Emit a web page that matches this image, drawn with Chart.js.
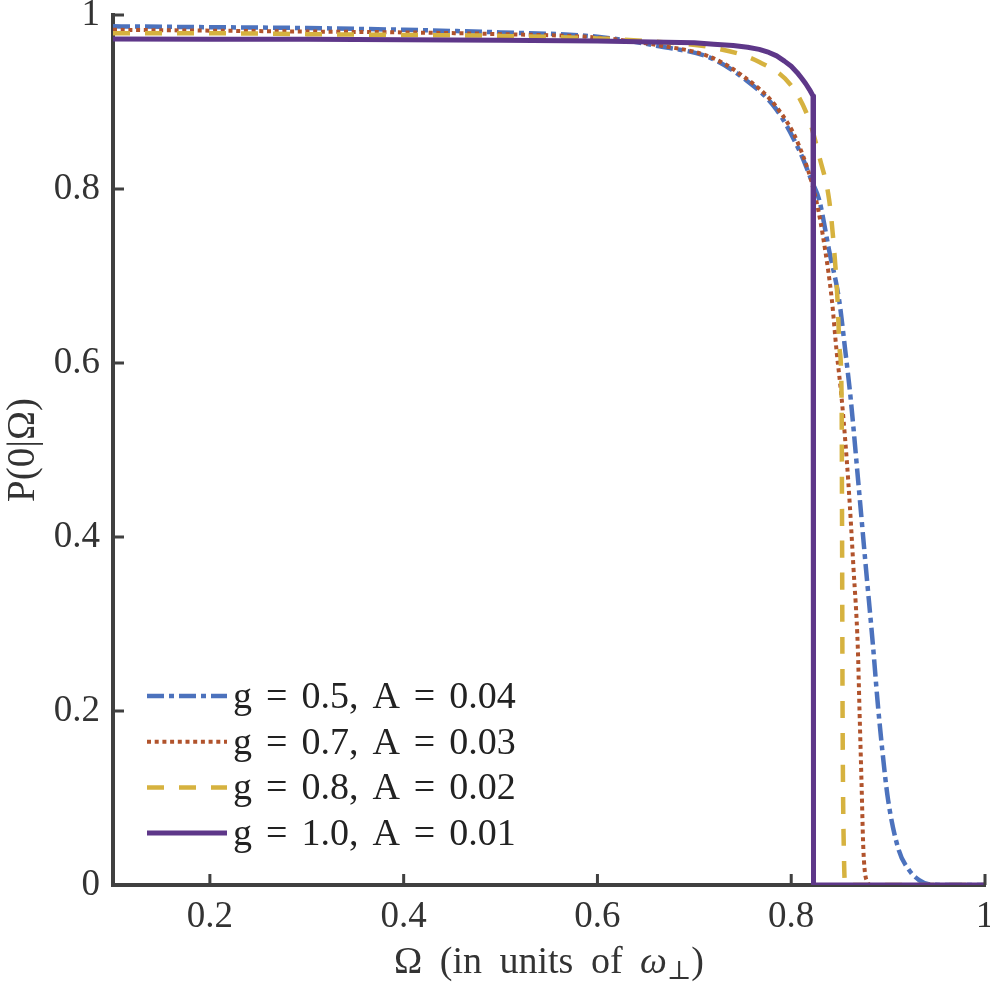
<!DOCTYPE html>
<html>
<head>
<meta charset="utf-8">
<script src="https://cdn.jsdelivr.net/npm/chart.js@4/dist/chart.umd.min.js"></script>
<style>
  html, body { margin: 0; padding: 0; background: #fff; }
</style>
</head>
<body>
<canvas id="plot" width="990" height="990"></canvas>
<script>
// values
const omegaG05 = [0.1, 0.2, 0.3, 0.4, 0.5, 0.6, 0.664, 0.716, 0.75, 0.785, 0.808, 0.822, 0.829, 0.839, 0.8495, 0.8557, 0.8615, 0.8693, 0.877, 0.8845, 0.889, 0.894, 0.9, 0.911, 0.9216, 0.932, 0.942, 0.96, 1.0];
const probG05  = [0.987, 0.986, 0.985, 0.983, 0.98, 0.975, 0.964, 0.951, 0.928, 0.891, 0.845, 0.807, 0.787, 0.73, 0.672, 0.615, 0.5575, 0.462, 0.3655, 0.2736, 0.2126, 0.155, 0.0977, 0.04, 0.0172, 0.0057, 0.001, 0, 0];

const omegaG07 = [0.1, 0.2, 0.3, 0.4, 0.5, 0.6, 0.664, 0.716, 0.75, 0.785, 0.808, 0.8258, 0.835, 0.842, 0.8467, 0.8522, 0.859, 0.8642, 0.8687, 0.8705, 0.8725, 0.8745, 0.8788, 0.882, 1.0];
const probG07  = [0.983, 0.982, 0.981, 0.98, 0.978, 0.974, 0.965, 0.952, 0.93, 0.894, 0.85, 0.787, 0.73, 0.672, 0.615, 0.5575, 0.462, 0.3655, 0.2736, 0.2, 0.12, 0.04, 0.003, 0, 0];

const omegaG08 = [0.1, 0.2, 0.3, 0.4, 0.5, 0.6, 0.664, 0.716, 0.767, 0.8013, 0.8186, 0.8295, 0.8392, 0.8443, 0.8478, 0.85, 0.852, 0.8525, 0.853, 0.8545, 0.856, 1.0];
const probG08  = [0.979, 0.979, 0.978, 0.977, 0.976, 0.973, 0.969, 0.963, 0.946, 0.917, 0.879, 0.835, 0.787, 0.73, 0.672, 0.615, 0.56, 0.4, 0.2, 0.03, 0, 0];

const omegaG10 = [0.1, 0.2, 0.3, 0.4, 0.5, 0.6, 0.7, 0.72, 0.74, 0.755, 0.767, 0.777, 0.785, 0.793, 0.8, 0.806, 0.811, 0.815, 0.819, 0.8225, 0.823, 1.0];
const probG10  = [0.9725, 0.9722, 0.972, 0.9715, 0.971, 0.970, 0.968, 0.9665, 0.965, 0.963, 0.9605, 0.957, 0.953, 0.947, 0.941, 0.934, 0.927, 0.921, 0.914, 0.907, 0, 0];

const seriesLabels = ['g = 0.5, A = 0.04', 'g = 0.7, A = 0.03', 'g = 0.8, A = 0.02', 'g = 1.0, A = 0.01'];
const xTicks = [0.2, 0.4, 0.6, 0.8, 1];
const yTicks = [0, 0.2, 0.4, 0.6, 0.8, 1];

const axisColor = '#404040';
const serif = "'Liberation Serif', 'DejaVu Serif', serif";

function pts(xs, ys) {
  return xs.map((x, i) => ({x: x, y: ys[i]}));
}

// draws words one by one with a wider gap, like the LaTeX spacing of the original
function spacedText(ctx, str, x, y, gap) {
  str.split(' ').forEach(w => {
    ctx.fillText(w, x, y);
    x += ctx.measureText(w).width + gap;
  });
  return x;
}

// ticks pointing into the plot
const innerTicks = {
  id: 'innerTicks',
  afterDraw(chart) {
    const ctx = chart.ctx;
    const xs = chart.scales.x, ys = chart.scales.y;
    ctx.save();
    ctx.strokeStyle = axisColor;
    ctx.lineWidth = 3;
    ctx.beginPath();
    xTicks.forEach(v => {
      const px = xs.getPixelForValue(v);
      ctx.moveTo(px, ys.bottom);
      ctx.lineTo(px, ys.bottom - 11);
    });
    yTicks.forEach(v => {
      const py = ys.getPixelForValue(v);
      ctx.moveTo(xs.left, py);
      ctx.lineTo(xs.left + 11, py);
    });
    ctx.stroke();
    ctx.restore();
  }
};

// legend in the lower left, no box
const lineLegend = {
  id: 'lineLegend',
  afterDraw(chart) {
    const ctx = chart.ctx;
    ctx.save();
    chart.data.datasets.forEach((ds, i) => {
      const y = 696 + i * 45.7;
      ctx.beginPath();
      ctx.strokeStyle = ds.borderColor;
      ctx.lineWidth = ds.borderWidth;
      ctx.setLineDash(ds.borderDash || []);
      ctx.moveTo(147, y);
      ctx.lineTo(227, y);
      ctx.stroke();
      ctx.setLineDash([]);
      ctx.fillStyle = '#222';
      ctx.font = '38px ' + serif;
      ctx.textBaseline = 'middle';
      ctx.textAlign = 'left';
      spacedText(ctx, ds.label, 233, y + 2, 14);
    });
    ctx.restore();
  }
};

// x axis title with italic omega and subscript
const xTitle = {
  id: 'xTitle',
  afterDraw(chart) {
    const ctx = chart.ctx;
    const parts = [
      {t: 'Ω (in units of ', f: '38px ' + serif, dy: 0},
      {t: 'ω', f: 'italic 38px ' + serif, dy: 0},
      {t: '⊥', f: '26px ' + serif, dy: 9},
      {t: ')', f: '38px ' + serif, dy: 0}
    ];
    ctx.save();
    ctx.fillStyle = '#333';
    ctx.textBaseline = 'middle';
    ctx.textAlign = 'left';
    ctx.wordSpacing = '8px';
    let total = 0;
    parts.forEach(p => { ctx.font = p.f; p.w = ctx.measureText(p.t).width; total += p.w; });
    let x = 549 - total / 2;
    parts.forEach(p => {
      ctx.font = p.f;
      ctx.fillText(p.t, x, 963 + p.dy);
      x += p.w;
    });
    ctx.restore();
  }
};

new Chart(document.getElementById('plot').getContext('2d'), {
  type: 'line',
  data: {
    datasets: [
      {label: seriesLabels[0], data: pts(omegaG05, probG05), borderColor: '#4c72bd', borderWidth: 4.5, borderDash: [17, 5, 5, 5], order: 4},
      {label: seriesLabels[1], data: pts(omegaG07, probG07), borderColor: '#b1532c', borderWidth: 4, borderDash: [4, 3.7], order: 3},
      {label: seriesLabels[2], data: pts(omegaG08, probG08), borderColor: '#d6b23f', borderWidth: 4.5, borderDash: [17, 15], order: 2},
      {label: seriesLabels[3], data: pts(omegaG10, probG10), borderColor: '#5e3789', borderWidth: 5, order: 1,
       cubicInterpolationMode: 'default', tension: 0}
    ]
  },
  options: {
    responsive: false,
    animation: false,
    events: [],
    layout: {padding: {top: 15, right: 5, left: 0, bottom: 0}},
    elements: {
      point: {radius: 0},
      line: {cubicInterpolationMode: 'monotone', fill: false, borderJoinStyle: 'round'}
    },
    plugins: {legend: {display: false}, tooltip: {enabled: false}},
    scales: {
      x: {
        type: 'linear',
        min: 0.1,
        max: 1,
        grid: {display: false, drawTicks: false},
        border: {display: true, color: axisColor, width: 4},
        ticks: {
          color: '#333',
          font: {family: serif, size: 37},
          padding: 10,
          maxRotation: 0,
          callback: v => String(v)
        },
        afterBuildTicks: s => { s.ticks = xTicks.map(v => ({value: v})); },
        afterFit: s => { s.height = 105; s.paddingRight = 0; s.paddingLeft = 0; }
      },
      y: {
        type: 'linear',
        min: 0,
        max: 1,
        grid: {display: false, drawTicks: false},
        border: {display: true, color: axisColor, width: 4},
        ticks: {
          color: '#333',
          font: {family: serif, size: 37},
          padding: 13,
          callback: v => String(v)
        },
        afterBuildTicks: s => { s.ticks = yTicks.map(v => ({value: v})); },
        afterFit: s => { s.width = 113; s.paddingTop = 0; s.paddingBottom = 0; },
        title: {
          display: true,
          text: 'P(0|Ω)',
          color: '#333',
          font: {family: serif, size: 39},
          padding: {top: 0, bottom: 0}
        }
      }
    }
  },
  plugins: [innerTicks, lineLegend, xTitle]
});
</script>
</body>
</html>
